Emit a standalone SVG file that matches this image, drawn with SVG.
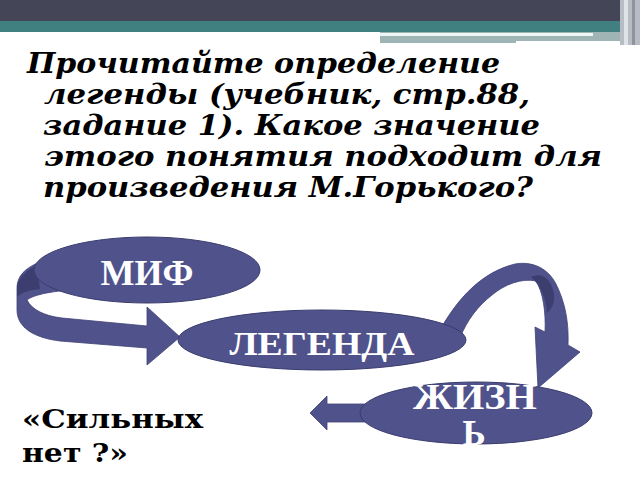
<svg xmlns="http://www.w3.org/2000/svg" width="640" height="480" viewBox="0 0 640 480">
<defs>
<style>
.title{font-family:"DejaVu Serif",serif;font-weight:bold;font-style:italic;font-size:28px;fill:#000}
.side{font-family:"DejaVu Serif",serif;font-weight:bold;font-size:26px;fill:#000}
.node{fill:#50528c;stroke:#3a3c6e;stroke-width:1}
.lbl{font-family:"Liberation Serif",serif;font-weight:bold;font-size:35px;fill:#fff;text-anchor:middle}
.arrow{fill:#50528c;stroke:#3f4176;stroke-width:0.8}
.dark{fill:#3c3e70}
</style>
</defs>
<rect width="640" height="480" fill="#fff"/>
<g id="header">
<rect x="0" y="0" width="640" height="21" fill="#454558"/>
<rect x="0" y="21" width="640" height="11" fill="#418080"/>
<rect x="380" y="32" width="245" height="11" fill="#9fb5b5"/>
<rect x="380" y="33" width="213" height="3" fill="#eef6f6"/>
<rect x="516" y="41" width="112" height="3" fill="#ffffff"/>
<rect x="620" y="0" width="20" height="45" fill="#b8bcc4"/>
<rect x="624" y="0" width="4" height="45" fill="#dfe2e6"/>
<rect x="632" y="0" width="3" height="45" fill="#8f949c"/>
</g>
<g id="title">
<text class="title" x="27" y="73" textLength="473" lengthAdjust="spacingAndGlyphs">Прочитайте определение</text>
<text class="title" x="44" y="104" textLength="486" lengthAdjust="spacingAndGlyphs">легенды (учебник, стр.88,</text>
<text class="title" x="43" y="135" textLength="497" lengthAdjust="spacingAndGlyphs">задание 1). Какое значение</text>
<text class="title" x="44" y="166" textLength="558" lengthAdjust="spacingAndGlyphs">этого понятия подходит для</text>
<text class="title" x="43" y="197" textLength="490" lengthAdjust="spacingAndGlyphs">произведения М.Горького?</text>
</g>
<g id="connectors">
<path class="arrow" d="M40,262 C25,268 17,276 17,288 L17,310 C17,328 35,338 60,341 L147,348 L147,365 L180,337 L147,307 L147,326 L62,318 C45,316 32,310 27,300 C32,296 45,292 70,290 Z"/>
<path class="dark" d="M17,286 C20,276 27,270 37,265 L40,289 C30,290 22,292 17,297 Z"/>
<path class="arrow" d="M440,330 C458,298 482,272 515,264 C532,261 548,268 556,284 C565,302 569,322 568,345 L580,352 L538,388 L535,327 L545,332 C546,312 543,292 536,281 C522,278 505,284 492,295 C478,306 467,320 460,338 Z"/>
<path class="dark" d="M531,277 C541,272 550,278 553,290 C556,300 553,308 547,313 C546,298 541,286 531,277 Z"/>
<path class="arrow" d="M365,404 L327,404 L327,396 L310,413 L327,430 L327,422 L365,422 Z"/>
</g>
<g id="node-mif">
<ellipse class="node" cx="147" cy="270" rx="113" ry="33"/>
<text class="lbl" x="147" y="285" textLength="93" lengthAdjust="spacingAndGlyphs">МИФ</text>
</g>
<g id="node-legenda">
<ellipse class="node" cx="322" cy="340" rx="144" ry="30"/>
<text class="lbl" x="322" y="355" style="font-size:33px" textLength="185" lengthAdjust="spacingAndGlyphs">ЛЕГЕНДА</text>
</g>
<g id="node-zhizn">
<ellipse class="node" cx="476" cy="413" rx="116" ry="31"/>
<text class="lbl" x="475" y="409" textLength="124" lengthAdjust="spacingAndGlyphs">ЖИЗН</text>
<text class="lbl" x="474" y="445">Ь</text>
</g>
<g id="side-text">
<text class="side" x="22" y="428" textLength="181" lengthAdjust="spacingAndGlyphs">«Сильных</text>
<text class="side" x="22" y="462" textLength="106" lengthAdjust="spacingAndGlyphs">нет ?»</text>
</g>
</svg>
